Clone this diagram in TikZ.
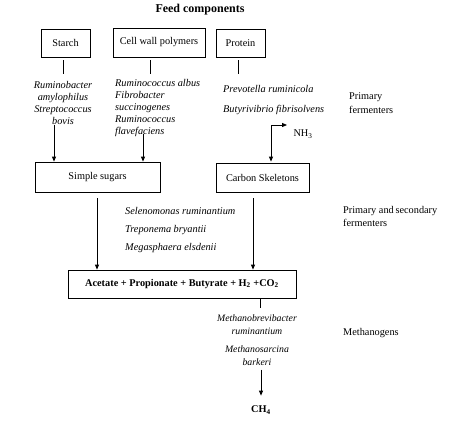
\documentclass[tikz,border=0pt]{standalone}
\usepackage{fontspec}
\setmainfont{Liberation Serif}
\usetikzlibrary{arrows.meta}

\begin{document}
\begin{tikzpicture}[x=1pt,y=-1pt,
            box/.style={draw,line width=0.8pt,inner sep=0pt,font=\fontsize{10.3}{12}\selectfont},
            bugs/.style={inner sep=0pt,font=\fontsize{10.3}{12}\selectfont\itshape},
            stage/.style={inner sep=0pt,anchor=west,align=left,font=\fontsize{10.3}{13}\selectfont},
            flow/.style={line width=0.8pt,-{Triangle[length=5pt,width=4pt]}},
            stub/.style={line width=0.8pt}
            ]
            \useasboundingbox (0,0) rectangle (474,428);
            \node[font=\fontsize{12}{14}\selectfont\bfseries] (title) at (200,10) {Feed components};

            % feed components
            \node[box,minimum width=49,minimum height=28] (starch) at (65.5,43) {Starch};
            \node[box,minimum width=92,minimum height=29] (wall) at (159,42.5) {Cell wall polymers};
            \node[box,minimum width=49,minimum height=28] (protein) at (240.5,43) {Protein};
            \foreach \n/\x in {starch/63,wall/150,protein/238}
                \draw[stub] ([yshift=-3]\n.south -| \x,0) --++ (0,14);

            % primary fermenters
            \node[bugs,align=center] (starchbugs) at (63,103) {Ruminobacter\\amylophilus\\Streptococcus\\bovis};
            \node[bugs,align=left,anchor=west] (wallbugs) at (115,108.5) {Ruminococcus albus\\Fibrobacter\\succinogenes\\Ruminococcus\\flavefaciens};
            \node[bugs,align=left,anchor=west,font=\fontsize{10.3}{20}\selectfont\itshape] (proteinbugs) at (223,100) {Prevotella ruminicola\\Butyrivibrio fibrisolvens};
            \node[stage,font=\fontsize{10.3}{14}\selectfont] (primary) at (349,103) {Primary\\fermenters};

            \node[box,minimum width=125,minimum height=30] (sugars) at (97.5,177) {Simple sugars};
            \node[box,minimum width=93,minimum height=29] (skeletons) at (262.5,177.5) {Carbon Skeletons};
            \node[inner sep=0pt,font=\fontsize{10.3}{12}\selectfont] (nh3) at (303,134) {NH\textsubscript{3}};
            \coordinate (nhtip) at (287,125);

            \draw[flow] (starchbugs.south -| 54,0) -- (sugars.north -| 54,0);
            \draw[flow] ([yshift=3]wallbugs.south -| 143,0) -- (sugars.north -| 143,0);
            \draw[line width=0.8pt,{Triangle[length=5pt,width=4pt]}-{Triangle[length=5pt,width=4pt]}] (nhtip) -| ([yshift=1]skeletons.north -| 271,0);

            % primary and secondary fermenters
            \node[bugs,align=left,anchor=west,font=\fontsize{10.3}{18}\selectfont\itshape] (midbugs) at (125,230) {Selenomonas ruminantium\\Treponema bryantii\\Megasphaera elsdenii};
            \node[stage] (secondary) at (343,216.5) {Primary and\,secondary\\fermenters};

            \node[box,minimum width=228,minimum height=28,font=\fontsize{10.3}{12}\selectfont\bfseries] (products) at (182,284)
                {Acetate + Propionate + Butyrate + H\textsubscript{2} +CO\textsubscript{2}};
            \draw[flow] ([yshift=-6]sugars.south -| 97,0) -- (products.north -| 97,0);
            \draw[flow] ([yshift=-6]skeletons.south -| 253,0) -- (products.north -| 253,0);

            % methanogens
            \node[bugs,align=center,font=\fontsize{9.8}{13}\selectfont\itshape] (methbugs) at (257,340) {Methanobrevibacter\\ruminantium\\[5pt]Methanosarcina\\barkeri};
            \node[stage] (methanogens) at (343,333) {Methanogens};
            \node[inner sep=0pt,font=\fontsize{10.3}{12}\selectfont\bfseries] (ch4) at (261,410) {CH\textsubscript{4}};
            \draw[stub] (products.south -| 260,0) --++ (0,10);
            \draw[flow] ([yshift=-4]methbugs.south -| 261,0) -- ([yshift=10]ch4.north -| 261,0);
        \end{tikzpicture}
\end{document}
